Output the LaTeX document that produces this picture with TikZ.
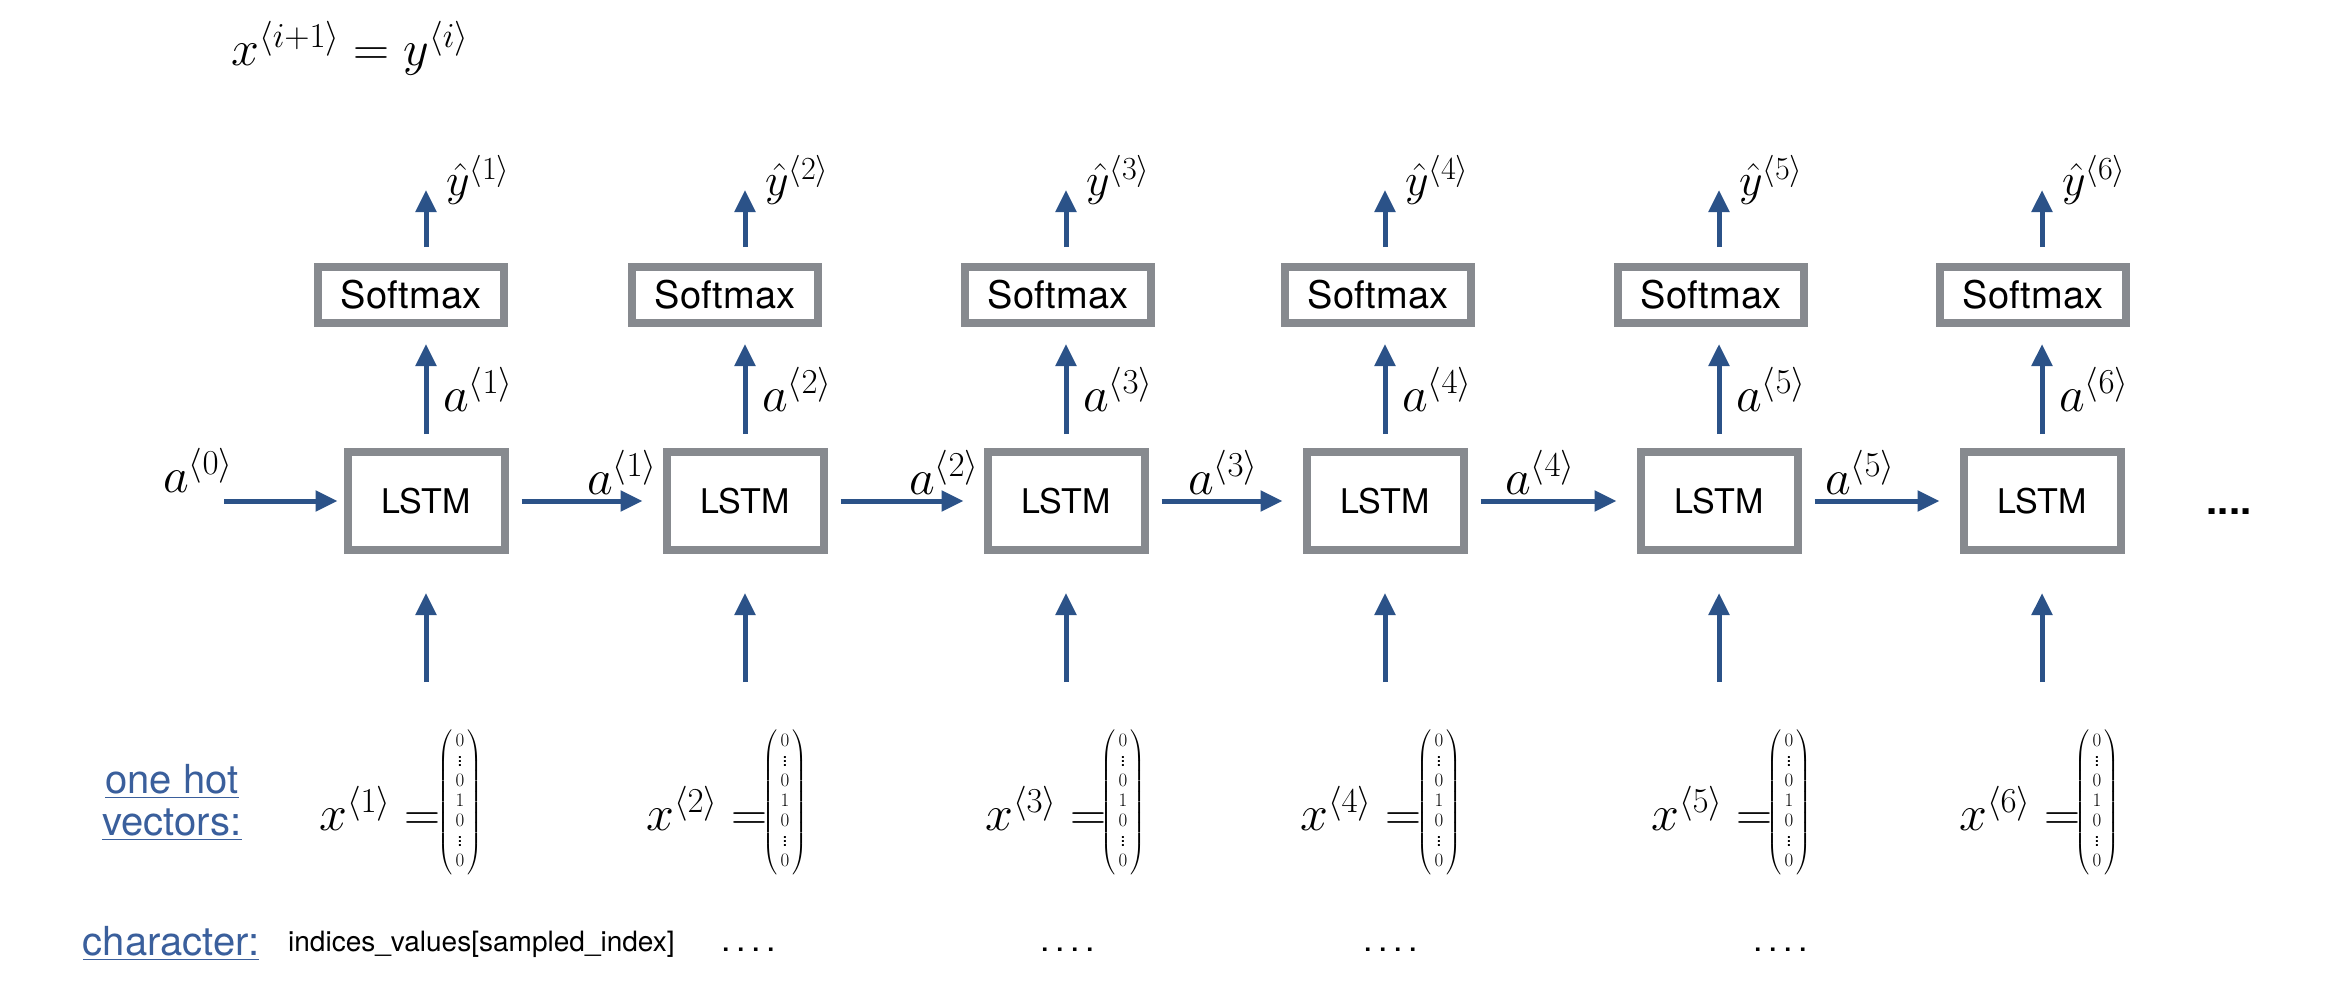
\RequirePackage{fix-cm}
\documentclass[tikz,border=0pt]{standalone}
\usepackage{amsmath}
\usepackage{fontspec}
\setmainfont{TeX Gyre Heros}
\usetikzlibrary{arrows.meta}
\definecolor{boxgray}{HTML}{878A8F}
\definecolor{arrblue}{HTML}{2B5288}
\definecolor{linkblue}{HTML}{3A5F9C}
\begin{document}
\begin{tikzpicture}[x=1pt,y=-1pt,
  arr/.style={draw=arrblue,line width=5pt,-{Triangle[width=20pt,length=22pt]}},
  lstm/.style={draw=boxgray,line width=8pt,minimum width=157pt,minimum height=98pt,inner sep=0pt,font=\fontsize{34}{40}\selectfont},
  soft/.style={draw=boxgray,line width=8pt,minimum width=186pt,minimum height=56pt,inner sep=0pt,font=\fontsize{38}{44}\selectfont},
  mlab/.style={inner sep=0pt,font=\fontsize{50}{58}\selectfont},
  slab/.style={inner sep=0pt,font=\fontsize{46}{54}\selectfont},
  link/.style={inner sep=0pt,text=linkblue,font=\fontsize{40}{48}\selectfont},
  dots/.style={inner sep=0pt,font=\fontsize{34}{40}\selectfont}]
\useasboundingbox (0,0) rectangle (2326,1006);
\node[mlab] (eq) at (350,48) {$x^{\langle i+1\rangle}=y^{\langle i\rangle}$};
\foreach \i/\lx/\sx/\mx/\xx in {1/426/411/460/380,2/745/725/785/707,3/1066/1058/1123/1046,4/1385/1378/1439/1361,5/1719/1711/1789/1712,6/2042/2033/2097/2020}{
  \node[lstm] (L\i) at (\lx,501) {LSTM};
  \node[soft] (S\i) at (\sx,295) {Softmax};
  \coordinate (Y\i) at (\lx,190);
  \coordinate (X\i) at (\lx,682);
  \draw[arr] ([yshift=14pt]L\i.north) -- ([yshift=-17pt]L\i.north |- S\i.south);
  \draw[arr] ([yshift=16pt]L\i.north |- S\i.north) -- (Y\i);
  \draw[arr] (X\i) -- ([yshift=-39pt]L\i.south);
  \node[slab] (yh\i) at (\lx+52,180) {$\hat y^{\langle \i\rangle}$};
  \node[mlab] (av\i) at (\lx+52,389) {$a^{\langle \i\rangle}$};
  \node[mlab] (xl\i) at (\xx,808) {$x^{\langle \i\rangle}=$};
  \node[inner sep=0pt,font=\fontsize{19}{23}\selectfont] (m\i) at (\mx,802) {$\left(\begin{array}{@{\,}c@{\,}}0\\[-3pt]\vdots\\[-3pt]0\\[-3pt]1\\[-3pt]0\\[-3pt]\vdots\\[-3pt]0\end{array}\right)$};
}
\coordinate (A0) at (224,501);
\node[mlab] (a0) at (198,470) {$a^{\langle 0\rangle}$};
\draw[arr] (A0) -- ([xshift=-6pt]L1.west);
\foreach \i/\j/\ax in {1/2/622,2/3/944,3/4/1223,4/5/1540,5/6/1860}{
  \draw[arr] ([xshift=13pt]L\i.east) -- ([xshift=-20pt]L\j.west);
  \node[mlab] (ah\i) at (\ax,472) {$a^{\langle \i\rangle}$};
}
\node[inner sep=0pt,font=\fontsize{40}{40}\selectfont\bfseries] (more) at (2229,512) {....};
\node[link,align=center] (oh) at (172,803) {\underline{one hot}\\[-6pt]\underline{vectors:}};
\node[link] (ch) at (171,944) {\underline{character:}};
\node[inner sep=0pt,anchor=west,font=\fontsize{28}{32}\selectfont] (iv) at (288,944) {indices\_values[sampled\_index]};
\foreach \k/\dx in {1/749,2/1068,3/1391,4/1781}{
  \node[dots] (d\k) at (\dx,950) {.\,.\,.\,.};
}
\end{tikzpicture}
\end{document}
